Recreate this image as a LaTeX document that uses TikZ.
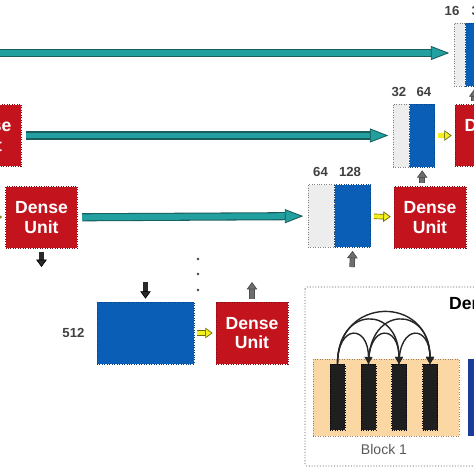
\documentclass[tikz,border=0pt]{standalone}
\usepackage{fontspec}
\setmainfont{Liberation Sans}
\usetikzlibrary{arrows.meta,positioning}
\definecolor{unitred}{HTML}{C3141D}
\definecolor{unitredDk}{HTML}{7E0C12}
\definecolor{catblue}{HTML}{0B5EB6}
\definecolor{catgrey}{HTML}{EDEDED}
\definecolor{skipteal}{HTML}{22A0A0}
\definecolor{skipdk}{HTML}{1A5E5E}
\definecolor{arryel}{HTML}{F2F01E}
\definecolor{arryeldk}{HTML}{6E6A10}
\definecolor{arrgray}{HTML}{6E6E6E}
\definecolor{arrblack}{HTML}{2A2A2A}
\definecolor{peach}{HTML}{FBD8A3}
\definecolor{navybar}{HTML}{1C3C9A}
\tikzset{
  dunit/.style={draw=unitredDk, densely dotted, fill=unitred, text=white,
    font=\bfseries\fontsize{10}{11}\selectfont, align=center,
    minimum width=1.44cm, minimum height=1.24cm, inner sep=0pt},
  catlight/.style={draw=gray, densely dotted, fill=catgrey,
    minimum height=1.26cm, inner sep=0pt},
  catpart/.style={draw=catblue!70!black, densely dotted, fill=catblue,
    minimum height=1.26cm, inner sep=0pt},
  num/.style={font=\bfseries\fontsize{7.5}{9}\selectfont, text=black!75},
  blockarr/.style 2 args={line width=2.3pt, color=#1, shorten <=1.7pt, shorten >=1.7pt,
    preaction={draw=#2, line width=3.1pt, -, shorten <=1.7pt, shorten >=4pt},
    -{Triangle[length=4.2pt, width=6pt, color=#2, fill=#1, line width=0.4pt]}},
  fwdarr/.style={blockarr={arryel}{arryeldk}},
  uparr/.style={blockarr={arrgray}{black!70}},
  downarr/.style={blockarr={arrblack}{black}},
  skiparr/.style={line width=3.4pt, color=skipteal, shorten <=2.5pt, shorten >=2.5pt,
    preaction={draw=skipdk, line width=4.6pt, -, shorten <=2.5pt, shorten >=9pt},
    -{Triangle[length=10.5pt, width=8pt, color=skipdk, fill=skipteal, line width=0.5pt]}},
  bar/.style={draw=black, densely dotted, fill=black!88, minimum width=0.3cm,
    minimum height=1.32cm, inner sep=0pt, outer sep=0pt},
  linkarc/.style={line width=0.8pt, black!85, -{Triangle[length=4pt, width=4.5pt]}},
}
\begin{document}
\begin{tikzpicture}[x=0.02cm,y=-0.02cm]
  \useasboundingbox (0,0) rectangle (474,474);
  \clip (0,0) rectangle (474,474);

  % row 1 (top)
  \coordinate (in1) at (-10,53);
  \node[catlight, minimum width=0.22cm] (cat1l) at (459.5,54.5) {};
  \node[catpart, minimum width=0.34cm, right=0pt of cat1l] (cat1b) {};
  \node[num] at (452,11) {16};
  \node[num] at (479,11) {32};
  \draw[skiparr] (in1) -- (cat1l.west |- in1);

  % row 2
  \node[dunit] (du2l) at (-15,135.5) {Dense\\Unit};
  \node[catlight, minimum width=0.32cm] (cat2l) at (401,135.5) {};
  \node[catpart, minimum width=0.5cm, right=0pt of cat2l] (cat2b) {};
  \node[num] at (399,92) {32};
  \node[num] at (424,92) {64};
  \node[dunit] (du2r) at (491,135.5) {Dense\\Unit};
  \draw[skiparr] (du2l) -- (cat2l);
  \draw[fwdarr] (cat2b) -- (du2r);
  \draw[uparr] (cat1b.south |- du2r.north) -- (cat1b.south);

  % row 3
  \coordinate (in3) at (-6,217);
  \node[dunit] (du3l) at (41.5,217.5) {Dense\\Unit};
  \node[catlight, minimum width=0.52cm] (cat3l) at (321,216) {};
  \node[catpart, minimum width=0.72cm, right=0pt of cat3l] (cat3b) {};
  \node[num] at (320.5,172) {64};
  \node[num] at (350,172) {128};
  \node[dunit] (du3r) at (430,217.5) {Dense\\Unit};
  \draw[fwdarr] (in3) -- (du3l);
  \draw[skiparr] (du3l) -- (cat3l);
  \draw[fwdarr] (cat3b) -- (du3r);
  \draw[uparr] (cat2b.south |- du3r.north) -- (cat2b.south);
  \coordinate (d3) at (41.5,270);
  \draw[downarr] (du3l) -- (d3);
  \coordinate (u3) at (352,270);
  \draw[uparr] (u3) -- (cat3b.south);

  % dots
  \foreach \y in {259,274,290}
    \fill[black!75] (198,\y) circle (1.3);

  % bottleneck
  \node[catpart, minimum width=1.94cm, minimum height=1.24cm] (neck) at (145.5,333) {};
  \node[num, left=0.12cm of neck] {512};
  \node[dunit] (du4) at (252,333) {Dense\\Unit};
  \coordinate (d4) at (145.5,279);
  \coordinate (u4) at (252,279);
  \draw[downarr] (d4) -- (neck);
  \draw[fwdarr] (neck) -- (du4);
  \draw[uparr] (du4) -- (u4);

  % dense unit legend
  \draw[gray!70, densely dotted, line width=0.6pt, rounded corners=1pt]
    (305,287) rectangle (560,466);
  \node[anchor=west, font=\bfseries\fontsize{10}{12}\selectfont] at (443,303) {Dense Unit};
  \node[draw=gray!80!orange, densely dotted, fill=peach, minimum width=2.92cm,
    minimum height=1.54cm, inner sep=0pt] (blk1) at (386,397.5) {};
  \foreach \i/\x in {1/337.5,2/368.5,3/399,4/430}
    \node[bar] (bar\i) at (\x,397) {};
  \foreach \a/\b/\h in {1/2/40,1/3/59,1/4/69,2/3/40,2/4/59,3/4/40}
    \draw[linkarc] (bar\a.north) .. controls +(0,-\h) and +(0,-\h) .. (bar\b.north);
  \node[font=\fontsize{8}{10}\selectfont, text=black!65] at (384,449) {Block 1};
  \fill[navybar] (468,359) rectangle (500,436);
\end{tikzpicture}
\end{document}
